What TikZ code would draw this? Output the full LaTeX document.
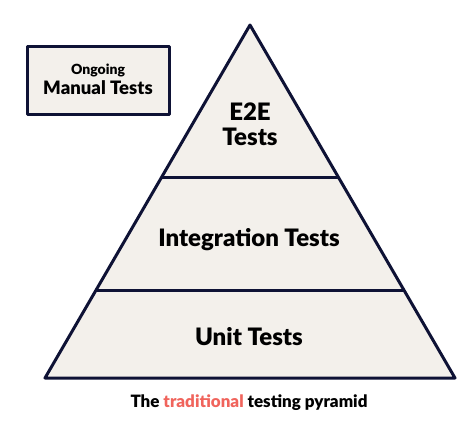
\documentclass[tikz,border=0pt]{standalone}
\usepackage{fontspec}
\setmainfont{Lato}[BoldFont={Lato Black}]
\usetikzlibrary{calc}
\definecolor{navy}{HTML}{0E1235}
\definecolor{beige}{HTML}{F3F0EB}
\definecolor{salmon}{HTML}{F0645C}
\begin{document}
\begin{tikzpicture}[x=1pt,y=-1pt,
  outline/.style={draw=navy,line width=3pt,line join=round},
  lbl/.style={font=\bfseries,text=black,inner sep=0pt,anchor=base}]
\useasboundingbox (0,0) rectangle (474,424);
\coordinate (apex) at (250,25);
\coordinate (bl) at (45,378);
\coordinate (br) at (455,378);
\filldraw[outline,fill=beige] (apex) -- (br) -- (bl) -- cycle;
\draw[navy,line width=3pt] ($(apex)!0.4334!(bl)$) -- ($(apex)!0.4334!(br)$);
\draw[navy,line width=3pt] ($(apex)!0.7535!(bl)$) -- ($(apex)!0.7535!(br)$);
\node[outline,fill=beige,minimum width=142pt,minimum height=68pt,inner sep=0pt] (manual) at (98,80) {};
\node[lbl,font=\bfseries\fontsize{14}{16}\selectfont] (ongoing) at (98,74) {Ongoing};
\node[lbl,font=\bfseries\fontsize{18.5}{22}\selectfont] (mt) at (98,94) {Manual Tests};
\node[lbl,font=\bfseries\fontsize{24}{28}\selectfont] (e2e) at (250,120) {E2E};
\node[lbl,font=\bfseries\fontsize{24}{28}\selectfont] (tests) at (250,145) {Tests};
\node[lbl,font=\bfseries\fontsize{24}{28}\selectfont] (integ) at (249,246) {Integration Tests};
\node[lbl,font=\bfseries\fontsize{24}{28}\selectfont] (unit) at (249,345) {Unit Tests};
\node[lbl,font=\bfseries\fontsize{17}{20}\selectfont] (caption) at (249,407) {The \textcolor{salmon}{traditional} testing pyramid};
\end{tikzpicture}
\end{document}
